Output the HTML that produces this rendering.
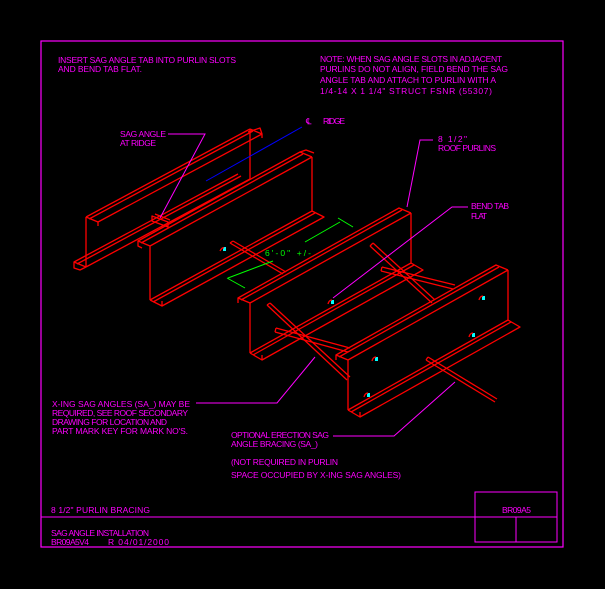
<!DOCTYPE html>
<html><head><meta charset="utf-8"><style>
html,body{margin:0;padding:0;background:#000;width:605px;height:589px;overflow:hidden}
svg{display:block}
text{font-family:"Liberation Sans",sans-serif;font-size:8.5px;fill:#ff00ff;lengthAdjust:spacingAndGlyphs}
.r{stroke:#ff0000;stroke-width:1.3;fill:none;stroke-linejoin:round}
.m{stroke:#ff00ff;stroke-width:1;fill:none}
.g{stroke:#00ff00;stroke-width:1;fill:none}
</style></head><body>
<svg width="605" height="589" viewBox="0 0 605 589" xmlns="http://www.w3.org/2000/svg">
<rect x="41" y="41" width="522" height="506" fill="none" stroke="#ff00ff" stroke-width="1.2"/>
<!-- title block -->
<line x1="41" y1="517" x2="557" y2="517" stroke="#ff00ff"/>
<rect x="475" y="492" width="82" height="50" fill="none" stroke="#ff00ff"/>
<line x1="516" y1="517" x2="516" y2="542" stroke="#ff00ff"/>

<!-- Purlin 1 -->
<g class="r">
<path d="M86,217 L250,129 M86,217 L86,267 M250,129 L250,179 M86,267 L250,179"/>
<path d="M86,217 L98,222 L262,134 L250,129 M98,222 L98,226 M262,134 L262,138 M89,219 L253,131"/>
<path d="M86,267 L74,262 L238,174 M74,262 L74,268 L80,270 L86,267 M77,264 L241,176"/>
<path d="M248,132 L260,128 L262,134"/>
</g>
<!-- ridge tab -->
<path class="r" d="M152,216 L168,222 L168,227 L152,221 Z M155,214 L170,220"/>
<!-- Purlin 2 -->
<g class="r">
<path d="M150,246 L312,157 M150,246 L150,300 M312,157 L312,211 M150,300 L312,211"/>
<path d="M150,246 L138,241 L300,152 L312,157 M138,241 L138,246 L142,248 M141,243 L303,154"/>
<path d="M150,300 L162,306 L324,217 L312,211 M162,306 L162,301 M153,302 L315,213"/>
<path d="M300,152 L306,150 L314,153"/>
</g>
<!-- Purlin 3 -->
<g class="r">
<path d="M250,303 L411,213 M250,303 L250,353 M411,213 L411,263 M250,353 L411,263"/>
<path d="M250,303 L238,298 L399,208 L411,213 M238,298 L238,303 M241,300 L402,210"/>
<path d="M250,353 L262,360 L423,270 L411,263 M262,360 L262,355 M253,355 L414,265"/>
</g>
<!-- Purlin 4 -->
<g class="r">
<path d="M348,360 L508,270 M348,360 L348,410 M508,270 L508,320 M348,410 L508,320"/>
<path d="M348,360 L336,355 L496,265 L508,270 M336,355 L336,360 M339,357 L499,267"/>
<path d="M348,410 L360,417 L520,327 L508,320 M360,417 L360,412 M351,412 L511,322"/>
</g>
<!-- sag angles -->
<g class="r">
<path d="M230,243 L283,274 M233,241 L286,272 M230,243 L233,241"/>
<path d="M267,305 L347,380 M270,303 L350,377 M267,305 L270,303"/>
<path d="M275,332 L348,352 M276,328 L350,348 M275,332 L276,328"/>
<path d="M370,246 L432,303 M373,243 L435,300 M370,246 L373,243"/>
<path d="M381,271 L453,289 M382,267 L455,285 M381,271 L382,267"/>
<path d="M426,360 L495,402 M428,357 L497,399 M426,360 L428,357"/>
</g>
<!-- bolts -->
<g fill="#00ffff">
<rect x="223" y="247" width="3" height="4"/><rect x="331" y="300" width="3" height="4"/>
<rect x="482" y="296" width="3" height="4"/><rect x="472" y="333" width="3" height="4"/>
<rect x="375" y="357" width="3" height="4"/><rect x="367" y="393" width="3" height="4"/>
</g>
<g class="r" stroke-width="1">
<path d="M220,251 q2,-4 4,-3 M328,304 q1,-4 4,-4 M479,300 q1,-4 4,-4 M469,337 q1,-4 4,-4 M372,361 q1,-4 4,-4 M364,397 q1,-4 4,-4"/>
</g>
<!-- ridge line -->
<line x1="302" y1="127" x2="206" y2="181" stroke="#0000ff" stroke-width="1"/>
<!-- dimension -->
<path class="g" d="M228,278 L273,261 M305,242 L340,222 M227,278 L245,288 M338,218 L353,227"/>
<!-- leaders -->
<path class="m" d="M168,134 L205,134 L160,218"/>
<path class="m" d="M433,140 L420,140 L407,207"/>
<path class="m" d="M468,207 L452,207 L333,298"/>
<path class="m" d="M196,403 L277,403 L315,357"/>
<path class="m" d="M333,436 L394,436 L455,382"/>
<!-- texts -->
<text x="58" y="63" textLength="178">INSERT SAG ANGLE TAB INTO PURLIN SLOTS</text>
<text x="58" y="72" textLength="84">AND BEND TAB FLAT.</text>
<text x="320" y="62" textLength="182">NOTE: WHEN SAG ANGLE SLOTS IN ADJACENT</text>
<text x="320" y="72" textLength="188">PURLINS DO NOT ALIGN, FIELD BEND THE SAG</text>
<text x="320" y="83" textLength="176">ANGLE TAB AND ATTACH TO PURLIN WITH A</text>
<text x="320" y="94" textLength="172">1/4-14 X 1 1/4" STRUCT FSNR (55307)</text>
<text x="306" y="124">℄</text>
<text x="323" y="124" textLength="22">RIDGE</text>
<text x="120" y="137" textLength="46">SAG ANGLE</text>
<text x="120" y="146" textLength="36">AT RIDGE</text>
<text x="438" y="142" textLength="29">8 1/2"</text>
<text x="438" y="151" textLength="58">ROOF PURLINS</text>
<text x="471" y="209" textLength="38">BEND TAB</text>
<text x="471" y="219" textLength="16">FLAT</text>
<text x="265" y="256" textLength="46" style="fill:#00ff00">6'-0" +/-</text>
<text x="52" y="407" textLength="138">X-ING SAG ANGLES (SA_) MAY BE</text>
<text x="52" y="416" textLength="136">REQUIRED, SEE ROOF SECONDARY</text>
<text x="52" y="425" textLength="115">DRAWING FOR LOCATION AND</text>
<text x="52" y="434" textLength="136">PART MARK KEY FOR MARK NO'S.</text>
<text x="231" y="438" textLength="98">OPTIONAL ERECTION SAG</text>
<text x="231" y="447" textLength="87">ANGLE BRACING (SA_)</text>
<text x="231" y="465" textLength="107">(NOT REQUIRED IN PURLIN</text>
<text x="231" y="478" textLength="170">SPACE OCCUPIED BY X-ING SAG ANGLES)</text>
<text x="51" y="513" textLength="99">8 1/2" PURLIN BRACING</text>
<text x="51" y="536" textLength="98">SAG ANGLE INSTALLATION</text>
<text x="51" y="545" textLength="38">BR09A5V4</text>
<text x="108" y="545" textLength="61">R 04/01/2000</text>
<text x="502" y="513" textLength="29">BR09A5</text>
</svg>
</body></html>
